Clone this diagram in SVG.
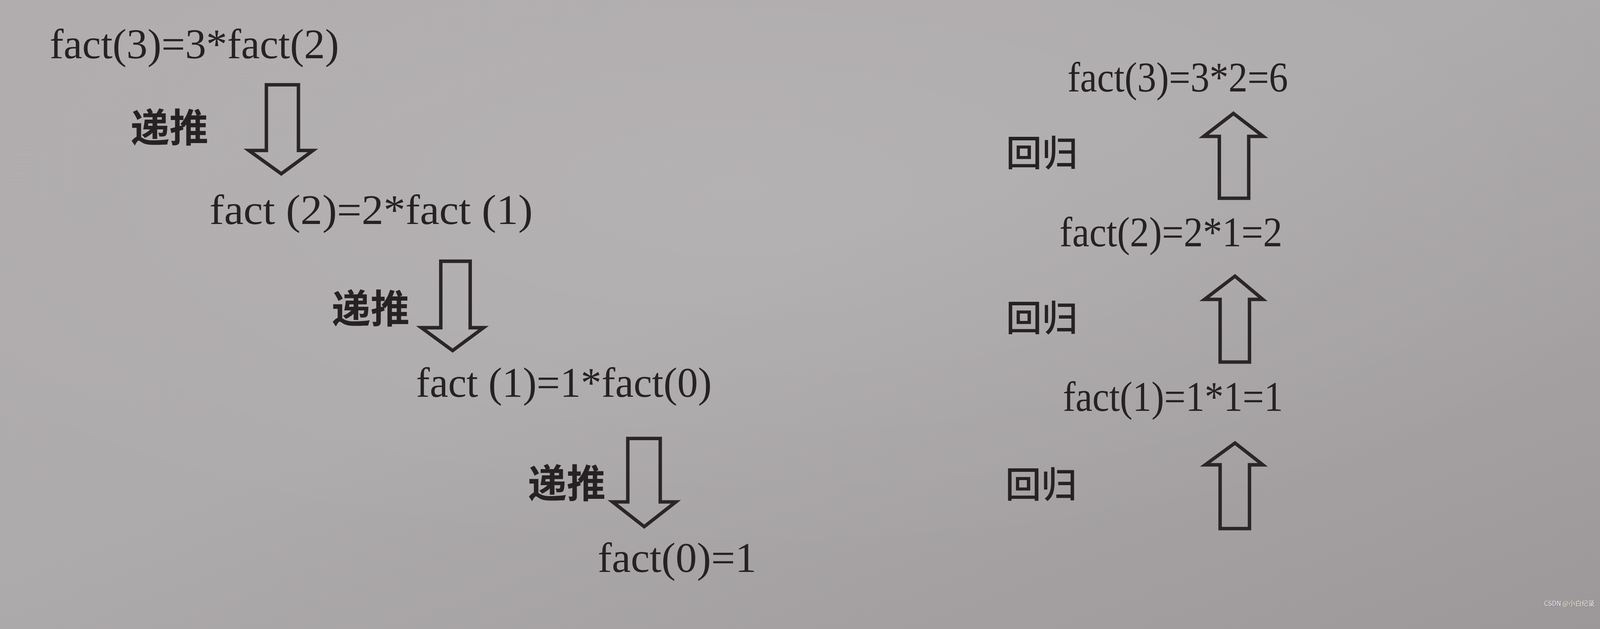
<svg xmlns="http://www.w3.org/2000/svg" width="4196" height="1609" viewBox="0 0 4196 1609">
  <defs>
    <linearGradient id="paper" x1="0" y1="0" x2="1" y2="1">
      <stop offset="0" stop-color="#b0acad"/>
      <stop offset="0.45" stop-color="#aeabac"/>
      <stop offset="1" stop-color="#9c9899"/>
    </linearGradient>
    <radialGradient id="glow" cx="0.45" cy="0.3" r="0.6">
      <stop offset="0" stop-color="#ffffff" stop-opacity="0.08"/>
      <stop offset="1" stop-color="#ffffff" stop-opacity="0"/>
    </radialGradient>
  </defs>
  <style>
    .eq { font-family: "Liberation Serif", "Times New Roman", serif; font-size: 110px; fill: #262223; }
    .lbl { font-family: "Noto Sans CJK SC", "Noto Sans", sans-serif; font-size: 102px; font-weight: 700; fill: #262223; }
    .lblr { font-family: "Noto Sans CJK SC", "Noto Sans", sans-serif; font-size: 94px; font-weight: 500; fill: #262223; }
    .arrow { fill: none; stroke: #2a2627; stroke-width: 9; stroke-linejoin: miter; }
    .wm { font-family: "Noto Sans CJK SC", sans-serif; font-size: 17px; fill: #ececec; }
    .wms { font-family: "Noto Sans CJK SC", sans-serif; font-size: 17px; fill: #6a6667; }
  </style>
  <rect x="0" y="0" width="4196" height="1609" fill="url(#paper)"/>
  <rect x="0" y="0" width="4196" height="1609" fill="url(#glow)"/>

  <g transform="scale(0.977)">
  <g id="n-fact3-down"><text class="eq" x="130" y="153">fact(3)=3*fact(2)</text></g>
  <g id="n-fact2-down"><text class="eq" x="549" y="587" textLength="847" lengthAdjust="spacingAndGlyphs">fact (2)=2*fact (1)</text></g>
  <g id="n-fact1-down"><text class="eq" x="1090" y="1039" textLength="775" lengthAdjust="spacingAndGlyphs">fact (1)=1*fact(0)</text></g>
  <g id="n-fact0"><text class="eq" x="1566" y="1497" textLength="416" lengthAdjust="spacingAndGlyphs">fact(0)=1</text></g>

  <g id="n-fact3-up"><text class="eq" x="2797" y="240" textLength="578" lengthAdjust="spacingAndGlyphs">fact(3)=3*2=6</text></g>
  <g id="n-fact2-up"><text class="eq" x="2776" y="645" textLength="584" lengthAdjust="spacingAndGlyphs">fact(2)=2*1=2</text></g>
  <g id="n-fact1-up"><text class="eq" x="2785" y="1076" textLength="577" lengthAdjust="spacingAndGlyphs">fact(1)=1*1=1</text></g>

  <g id="connectors">
    <polygon class="arrow" points="698,222 782,222 782,394 820,394 737,455 652,394 698,394"/>
    <polygon class="arrow" points="1155,684 1232,684 1232,858 1267,858 1186,918 1104,858 1155,858"/>
    <polygon class="arrow" points="1645,1148 1730,1148 1730,1314 1771,1314 1688,1379 1605,1314 1645,1314"/>
    <polygon class="arrow" points="3232,297 3310,357 3272,357 3272,519 3195,519 3195,357 3154,357"/>
    <polygon class="arrow" points="3236,723 3309,784 3274,784 3274,948 3197,948 3197,784 3156,784"/>
    <polygon class="arrow" points="3236,1160 3309,1217 3274,1217 3274,1384 3197,1384 3197,1217 3158,1217"/>
    <text class="lbl" x="342" y="372">递推</text>
    <text class="lbl" x="869" y="845">递推</text>
    <text class="lbl" x="1383" y="1303">递推</text>
    <text class="lblr" x="2636" y="435">回归</text>
    <text class="lblr" x="2636" y="867">回归</text>
    <text class="lblr" x="2634" y="1303">回归</text>
  </g>

  <g id="watermark">
    <text class="wms" x="4047" y="1588">CSDN @小白纪录</text>
    <text class="wm" x="4046" y="1587">CSDN @小白纪录</text>
  </g>
  </g>
</svg>
